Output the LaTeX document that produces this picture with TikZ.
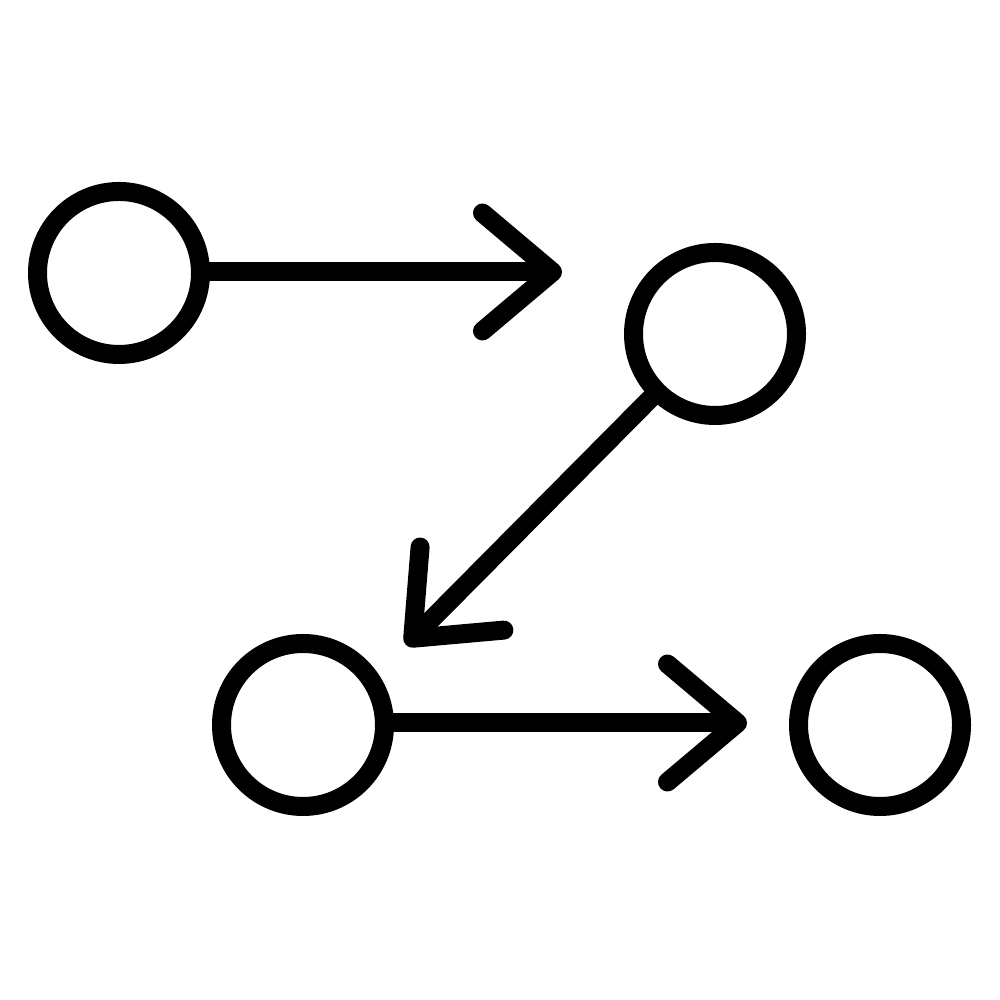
\documentclass[tikz,border=0pt]{standalone}
\usepackage{tikz}
\usetikzlibrary{arrows.meta}
\newcommand{\icnlw}{0.19cm}
\newcommand{\icncd}{1.63cm}
\newcommand{\icnhl}{0.70cm}
\newcommand{\icnhw}{1.18cm}
\tikzset{
  ring/.style={draw,circle,line width=\icnlw,inner sep=0pt,minimum size=\icncd},
  flow/.style={line width=\icnlw,line cap=round,line join=round,
    -{Straight Barb[length=\icnhl,width=\icnhw,round]}}
}

\begin{document}
\begin{tikzpicture}
    \useasboundingbox (0,0) rectangle (10,10);

    \node (ringa) at (1.19, 7.27) [ring] {};
    \node (ringb) at (7.15, 6.66) [ring] {};
    \node (ringc) at (3.03, 2.75) [ring] {};
    \node (ringd) at (8.80, 2.75) [ring] {};

    \coordinate (tipa) at (5.62, 7.28);
    \coordinate (tipb) at (4.06, 3.55);
    \coordinate (tipc) at (7.47, 2.77);

    \draw[flow] (ringa.east |- tipa) -- (tipa);
    \draw[flow] (ringb.225) -- (tipb);
    \draw[flow] (ringc.east |- tipc) -- (tipc);
  \end{tikzpicture}
\end{document}
